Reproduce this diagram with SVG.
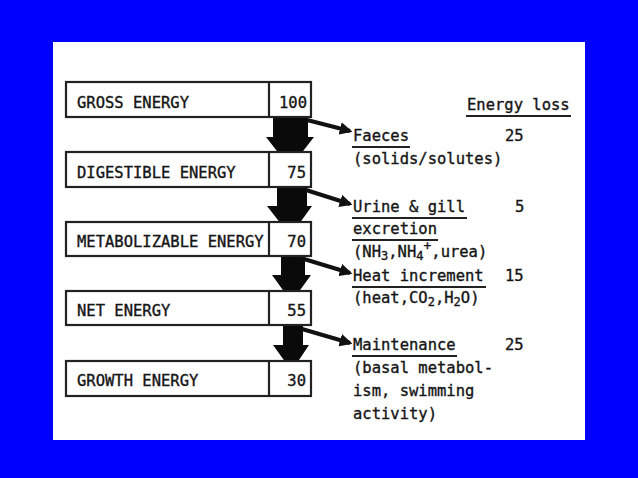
<svg xmlns="http://www.w3.org/2000/svg" width="638" height="478" viewBox="0 0 638 478">
<defs>
<style>
.t{font-family:"DejaVu Sans Mono","Liberation Mono",monospace;font-size:15.5px;fill:#151515;stroke:#151515;stroke-width:0.35}
.box{fill:#fff;stroke:#222;stroke-width:2.2}
.ul{stroke:#222;stroke-width:1.8}
.side{stroke:#111;stroke-width:4;fill:none}
.blk{fill:#0a0a0a}
</style>
<marker id="ah" viewBox="0 0 10 10" refX="8" refY="5" markerWidth="3.2" markerHeight="3.2" orient="auto" markerUnits="strokeWidth">
<path d="M0,0 L10,5 L0,10 z" fill="#111"/>
</marker>
</defs>
<rect x="0" y="0" width="638" height="478" fill="#0000ff"/>
<rect x="53" y="42" width="532" height="398" fill="#fff"/>

<g id="connectors">
<polygon class="blk" points="273,117 308,117 308,137 314,137 300,155 280,155 266,137 273,137"/>
<polygon class="blk" points="277,187 307,187 307,206 312,206 299,224 281,224 267,206 277,206"/>
<polygon class="blk" points="281,256 305,256 305,275 311,275 298,293 285,293 272,275 281,275"/>
<polygon class="blk" points="283,325 303,325 303,345 309,345 297,363 286,363 273,345 283,345"/>
<line class="side" x1="307" y1="120" x2="350" y2="131" marker-end="url(#ah)"/>
<line class="side" x1="306" y1="190" x2="350" y2="204" marker-end="url(#ah)"/>
<line class="side" x1="304" y1="259" x2="350" y2="273" marker-end="url(#ah)"/>
<line class="side" x1="302" y1="329" x2="350" y2="343" marker-end="url(#ah)"/>
</g>

<g id="gross">
<rect class="box" x="66" y="82" width="245" height="35"/>
<line class="box" x1="269" y1="82" x2="269" y2="117"/>
<text class="t" x="77" y="108">GROSS ENERGY</text>
<text class="t" x="307" y="108" text-anchor="end">100</text>
</g>
<g id="digestible">
<rect class="box" x="66" y="152" width="245" height="35"/>
<line class="box" x1="269" y1="152" x2="269" y2="187"/>
<text class="t" x="77" y="178">DIGESTIBLE ENERGY</text>
<text class="t" x="306" y="178" text-anchor="end">75</text>
</g>
<g id="metabolizable">
<rect class="box" x="66" y="222" width="245" height="34"/>
<line class="box" x1="269" y1="222" x2="269" y2="256"/>
<text class="t" x="77" y="247">METABOLIZABLE ENERGY</text>
<text class="t" x="306" y="247" text-anchor="end">70</text>
</g>
<g id="net">
<rect class="box" x="66" y="291" width="245" height="34"/>
<line class="box" x1="269" y1="291" x2="269" y2="325"/>
<text class="t" x="77" y="316">NET ENERGY</text>
<text class="t" x="306" y="316" text-anchor="end">55</text>
</g>
<g id="growth">
<rect class="box" x="66" y="361" width="245" height="35"/>
<line class="box" x1="269" y1="361" x2="269" y2="396"/>
<text class="t" x="77" y="386">GROWTH ENERGY</text>
<text class="t" x="306" y="386" text-anchor="end">30</text>
</g>

<g id="loss-header">
<text class="t" x="467" y="110">Energy loss</text>
<line class="ul" x1="466" y1="116" x2="571" y2="116"/>
</g>
<g id="faeces">
<text class="t" x="353" y="141">Faeces</text>
<line class="ul" x1="352" y1="147" x2="410" y2="147"/>
<text class="t" x="505" y="141">25</text>
<text class="t" x="353" y="164">(solids/solutes)</text>
</g>
<g id="urine">
<text class="t" x="353" y="212">Urine &amp; gill</text>
<line class="ul" x1="352" y1="218" x2="467" y2="218"/>
<text class="t" x="515" y="212">5</text>
<text class="t" x="353" y="234">excretion</text>
<line class="ul" x1="352" y1="240" x2="438" y2="240"/>
<text class="t" x="353" y="257">(NH<tspan dy="3" font-size="12">3</tspan><tspan dy="-3">,NH</tspan><tspan dy="3" font-size="12">4</tspan><tspan dy="-10" font-size="13">+</tspan><tspan dy="7">,urea)</tspan></text>
</g>
<g id="heat">
<text class="t" x="353" y="281">Heat increment</text>
<line class="ul" x1="352" y1="287" x2="486" y2="287"/>
<text class="t" x="505" y="281">15</text>
<text class="t" x="353" y="303">(heat,CO<tspan dy="3" font-size="12">2</tspan><tspan dy="-3">,H</tspan><tspan dy="3" font-size="12">2</tspan><tspan dy="-3">O)</tspan></text>
</g>
<g id="maintenance">
<text class="t" x="353" y="350">Maintenance</text>
<line class="ul" x1="352" y1="356" x2="457" y2="356"/>
<text class="t" x="505" y="350">25</text>
<text class="t" x="353" y="373">(basal metabol-</text>
<text class="t" x="353" y="396">ism, swimming</text>
<text class="t" x="353" y="419">activity)</text>
</g>
</svg>
